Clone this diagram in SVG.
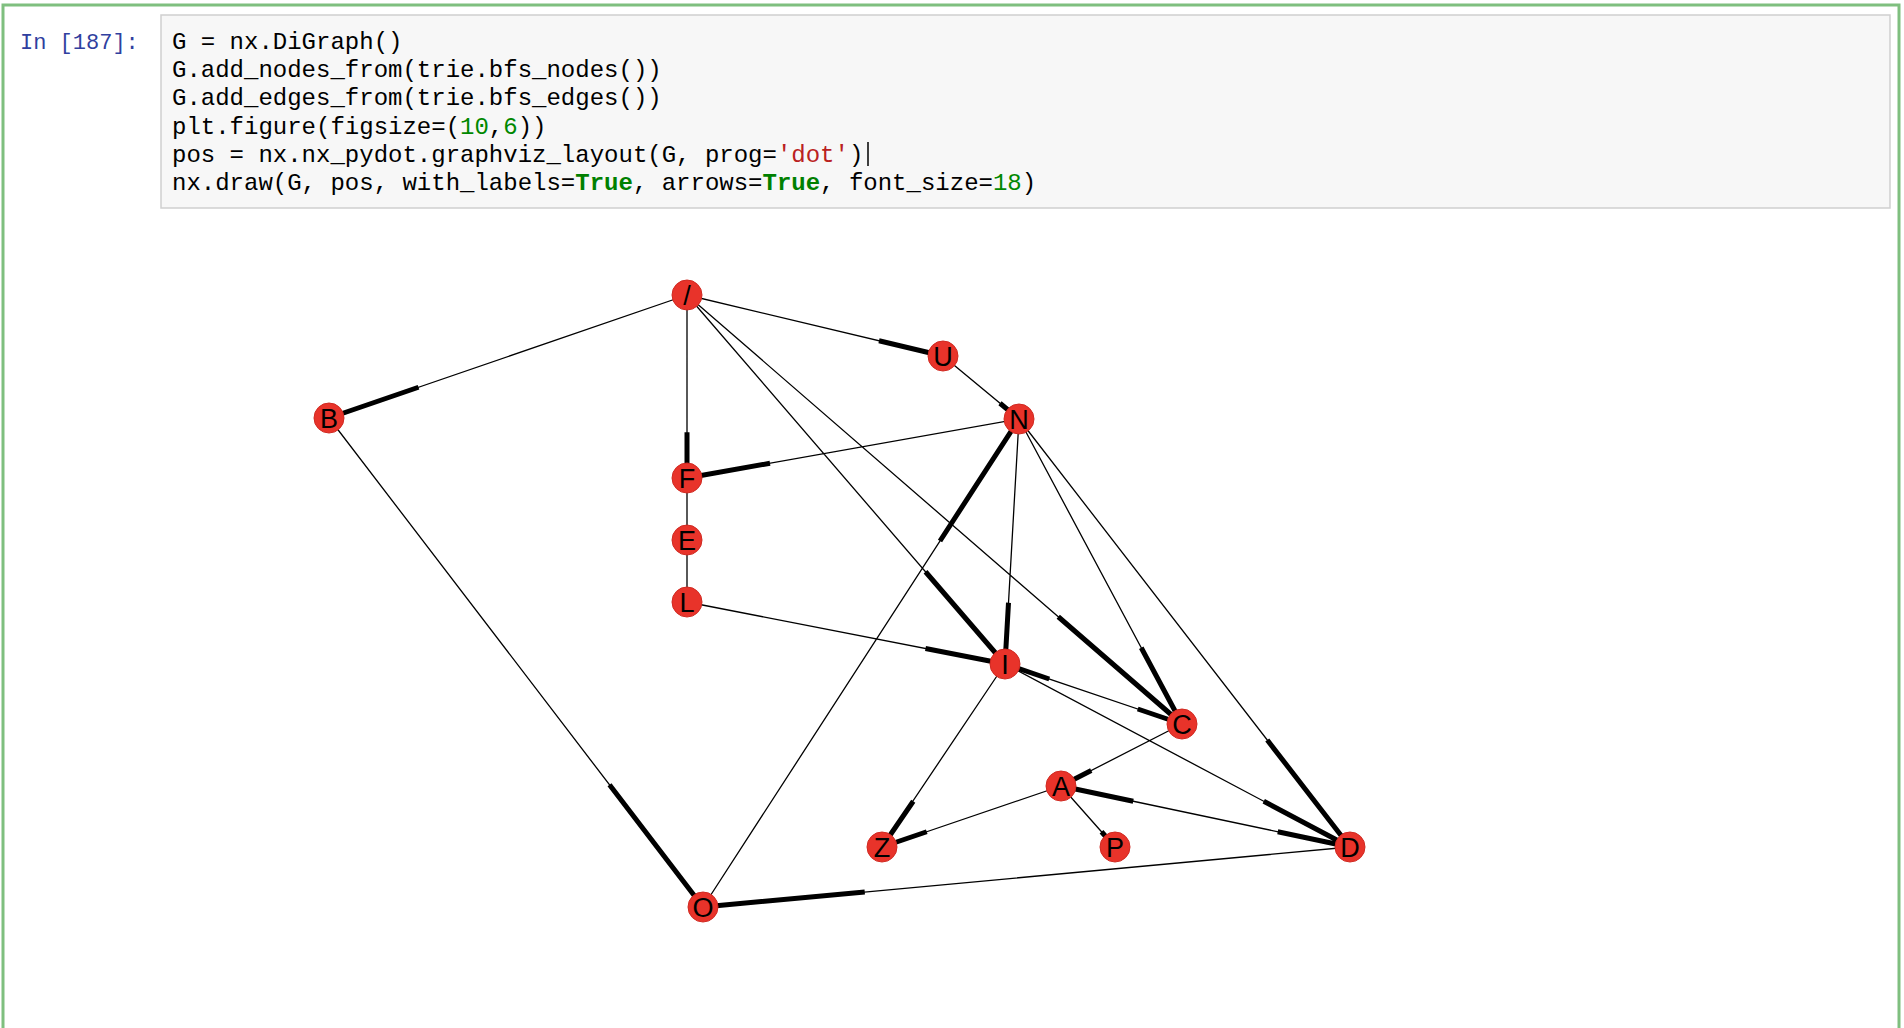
<svg xmlns="http://www.w3.org/2000/svg" width="1904" height="1028" viewBox="0 0 1904 1028">
<style>
.code{font-family:"Liberation Mono",monospace;font-size:24px;fill:#000}
.kw{fill:#008000;font-weight:bold}.num{fill:#080}.str{fill:#BA2121}
.e{stroke:#000;stroke-width:1.3;fill:none}
.h{stroke:#000;stroke-width:5;fill:none}
.n circle{fill:#e8332a;stroke:#d02a22}
.n text{font-family:"Liberation Sans",Arial,sans-serif;font-size:27px;text-anchor:middle;fill:#000}
</style>
<rect x="0" y="0" width="1904" height="1028" fill="#fff"/>
<rect x="3" y="5" width="1896" height="1030" fill="none" stroke="#7fbf7f" stroke-width="3"/>
<rect x="161" y="15" width="1729" height="193" fill="#f7f7f7" stroke="#cfcfcf" stroke-width="1.5" transform="scale(1,1)"/>
<text x="20" y="49" font-family="Liberation Mono,monospace" font-size="22" fill="#303F9F">In [187]:</text>
<text class="code" x="172" y="49">G = nx.DiGraph()</text>
<text class="code" x="172" y="77">G.add_nodes_from(trie.bfs_nodes())</text>
<text class="code" x="172" y="105">G.add_edges_from(trie.bfs_edges())</text>
<text class="code" x="172" y="134">plt.figure(figsize=(<tspan class="num">10</tspan>,<tspan class="num">6</tspan>))</text>
<text class="code" x="172" y="162">pos = nx.nx_pydot.graphviz_layout(G, prog=<tspan class="str">'dot'</tspan>)</text>
<line x1="868" y1="142" x2="868" y2="166" stroke="#000" stroke-width="1.5"/>
<text class="code" x="172" y="190">nx.draw(G, pos, with_labels=<tspan class="kw">True</tspan>, arrows=<tspan class="kw">True</tspan>, font_size=<tspan class="num">18</tspan>)</text>
<g transform="translate(-6,-4)">
<g id="edges">
<path class="e" d="M693,299L335,422M693,299L949,360M693,299L693,482M693,299L1011,668M693,299L1188,728M949,360L1025,423M1025,423L693,482M709,911L1025,423M1025,423L1011,668M1025,423L1188,728M1025,423L1356,851M335,422L709,911M693,482L693,544M693,544L693,606M693,606L1011,668M1011,668L1188,728M1011,668L1356,851M1011,668L888,851M1188,728L1067,790M1067,790L1356,851M1067,790L888,851M1067,790L1121,851M1356,851L709,911"/>
<path class="h" d="M424.5,391.25L335,422M885,344.75L949,360M693,436.25L693,482M931.5,575.75L1011,668M1064.25,620.75L1188,728M1006,407.25L1025,423M776,467.25L693,482M946,545L1025,423M1014.5,606.75L1011,668M1147.25,651.75L1188,728M1273.25,744L1356,851M615.5,788.75L709,911M931.5,652.5L1011,668M1143.75,713L1188,728M1055.25,683L1011,668M1269.75,805.25L1356,851M919.25,805.25L888,851M1097.25,774.5L1067,790M1283.75,835.75L1356,851M1139.25,805.25L1067,790M932.75,835.75L888,851M1107.5,835.75L1121,851M870.75,896L709,911"/>
</g>
<g id="node-root" class="n"><circle cx="693" cy="299" r="15"/><text x="693" y="309">/</text></g>
<g id="node-U" class="n"><circle cx="949" cy="360" r="15"/><text x="949" y="370">U</text></g>
<g id="node-B" class="n"><circle cx="335" cy="422" r="15"/><text x="335" y="432">B</text></g>
<g id="node-N" class="n"><circle cx="1025" cy="423" r="15"/><text x="1025" y="433">N</text></g>
<g id="node-F" class="n"><circle cx="693" cy="482" r="15"/><text x="693" y="492">F</text></g>
<g id="node-E" class="n"><circle cx="693" cy="544" r="15"/><text x="693" y="554">E</text></g>
<g id="node-L" class="n"><circle cx="693" cy="606" r="15"/><text x="693" y="616">L</text></g>
<g id="node-I" class="n"><circle cx="1011" cy="668" r="15"/><text x="1011" y="678">I</text></g>
<g id="node-C" class="n"><circle cx="1188" cy="728" r="15"/><text x="1188" y="738">C</text></g>
<g id="node-A" class="n"><circle cx="1067" cy="790" r="15"/><text x="1067" y="800">A</text></g>
<g id="node-Z" class="n"><circle cx="888" cy="851" r="15"/><text x="888" y="861">Z</text></g>
<g id="node-P" class="n"><circle cx="1121" cy="851" r="15"/><text x="1121" y="861">P</text></g>
<g id="node-D" class="n"><circle cx="1356" cy="851" r="15"/><text x="1356" y="861">D</text></g>
<g id="node-O" class="n"><circle cx="709" cy="911" r="15"/><text x="709" y="921">O</text></g>
</g>
</svg>
